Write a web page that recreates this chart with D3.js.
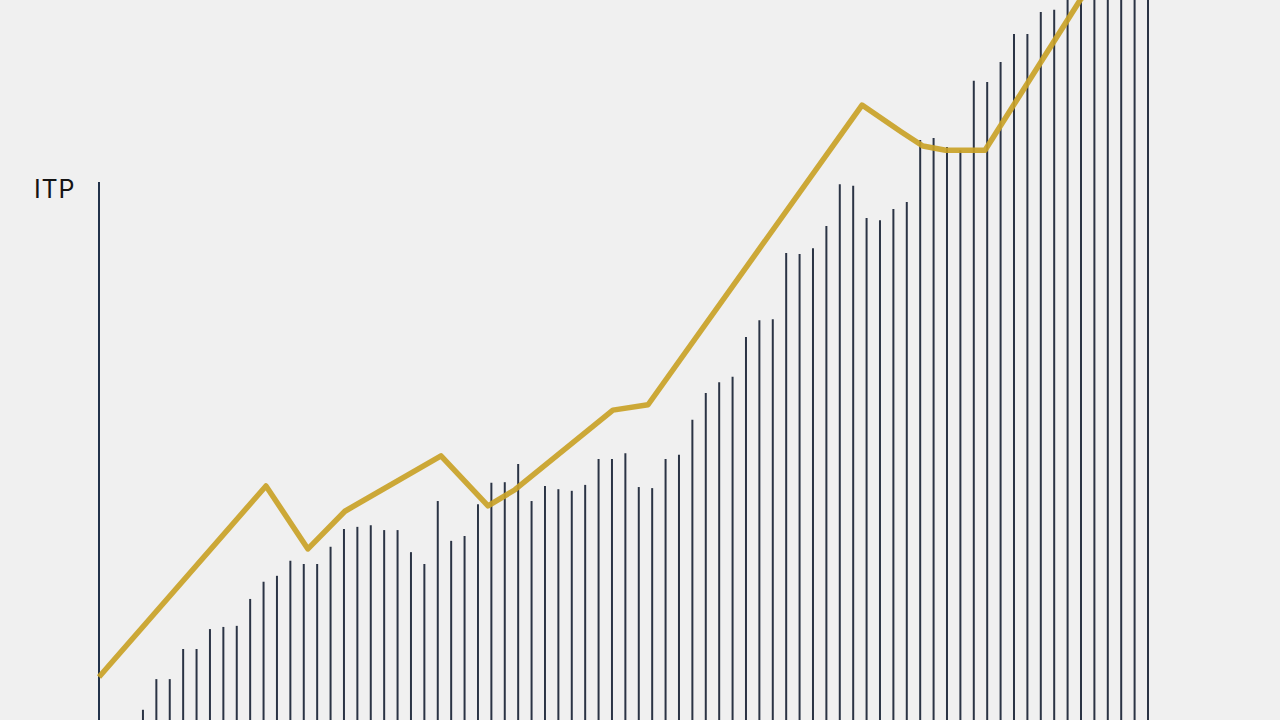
<!DOCTYPE html>
<html>
<head>
<meta charset="utf-8">
<script src="https://cdn.jsdelivr.net/npm/d3@7"></script>
<style>
  html, body { margin: 0; padding: 0; background: #f0f0f0; }
  svg { display: block; }
</style>
</head>
<body>
<svg id="chart" width="1280" height="720"></svg>
<script>
// Bar series: one value per period (periods 0..75)
const barValues = [
  1.9, 7.6, 7.6, 13.2, 13.2, 16.9, 17.3, 17.5, 22.5, 25.7,
  26.8, 29.6, 29.0, 29.0, 32.2, 35.5, 35.9, 36.2, 35.3, 35.3,
  31.2, 29.0, 40.7, 33.3, 34.2, 40.1, 44.1, 44.2, 47.6, 40.7,
  43.5, 42.9, 42.6, 43.7, 48.5, 48.5, 49.6, 43.3, 43.1, 48.5,
  49.3, 55.8, 60.8, 62.8, 63.8, 71.2, 74.3, 74.5, 86.8, 86.6,
  87.7, 91.8, 99.6, 99.3, 93.3, 92.9, 95.0, 96.3, 107.8, 108.2,
  106.5, 105.9, 118.8, 118.6, 122.3, 127.5, 127.5, 131.6, 132.0, 136,
  139, 141, 144, 146, 149, 152
];
// Line series: period position and value
const linePeriods = [-3.28, 9.18, 12.31, 15.07, 22.24, 25.75, 27.76, 35.07, 37.69, 53.66, 56.6, 58.2, 59.9, 62.84, 69.93, 75.2];
const lineValues  = [8.0, 43.5, 31.8, 38.8, 49.1, 39.8, 42.8, 57.6, 58.6, 114.3, 109.3, 106.7, 105.9, 105.9, 133.8, 150];
const axisLabel = "ITP";

const svg = d3.select("#chart");
const x = d3.scaleLinear().domain([-3.28, 75]).range([99, 1148]);
const y = d3.scaleLinear().domain([0, 100]).range([720, 182]);

// bars (thin vertical lines)
svg.append("g").selectAll("line")
  .data(barValues)
  .join("line")
  .attr("x1", (d, i) => x(i))
  .attr("x2", (d, i) => x(i))
  .attr("y1", y(0))
  .attr("y2", d => y(d))
  .attr("stroke", "#2b3445")
  .attr("stroke-width", 2);

// y axis line
svg.append("line")
  .attr("x1", x(-3.28)).attr("x2", x(-3.28))
  .attr("y1", y(0)).attr("y2", y(100))
  .attr("stroke", "#22324a")
  .attr("stroke-width", 2);

svg.append("text")
  .attr("x", 34).attr("y", 198)
  .attr("text-anchor", "start")
  .attr("font-family", "Inter, 'Open Sans', sans-serif")
  .attr("font-size", 25)
  .attr("letter-spacing", 0.8)
  .attr("fill", "#141414")
  .text(axisLabel);

// gold line
const line = d3.line()
  .x(d => x(d[0]))
  .y(d => y(d[1]))
  .curve(d3.curveLinear);
svg.append("path")
  .datum(linePeriods.map((p, i) => [p, lineValues[i]]))
  .attr("d", line)
  .attr("fill", "none")
  .attr("stroke", "#c9a227")
  .attr("stroke-width", 5.5)
  .attr("stroke-linejoin", "round")
  .attr("stroke-opacity", 0.92);
</script>
</body>
</html>
